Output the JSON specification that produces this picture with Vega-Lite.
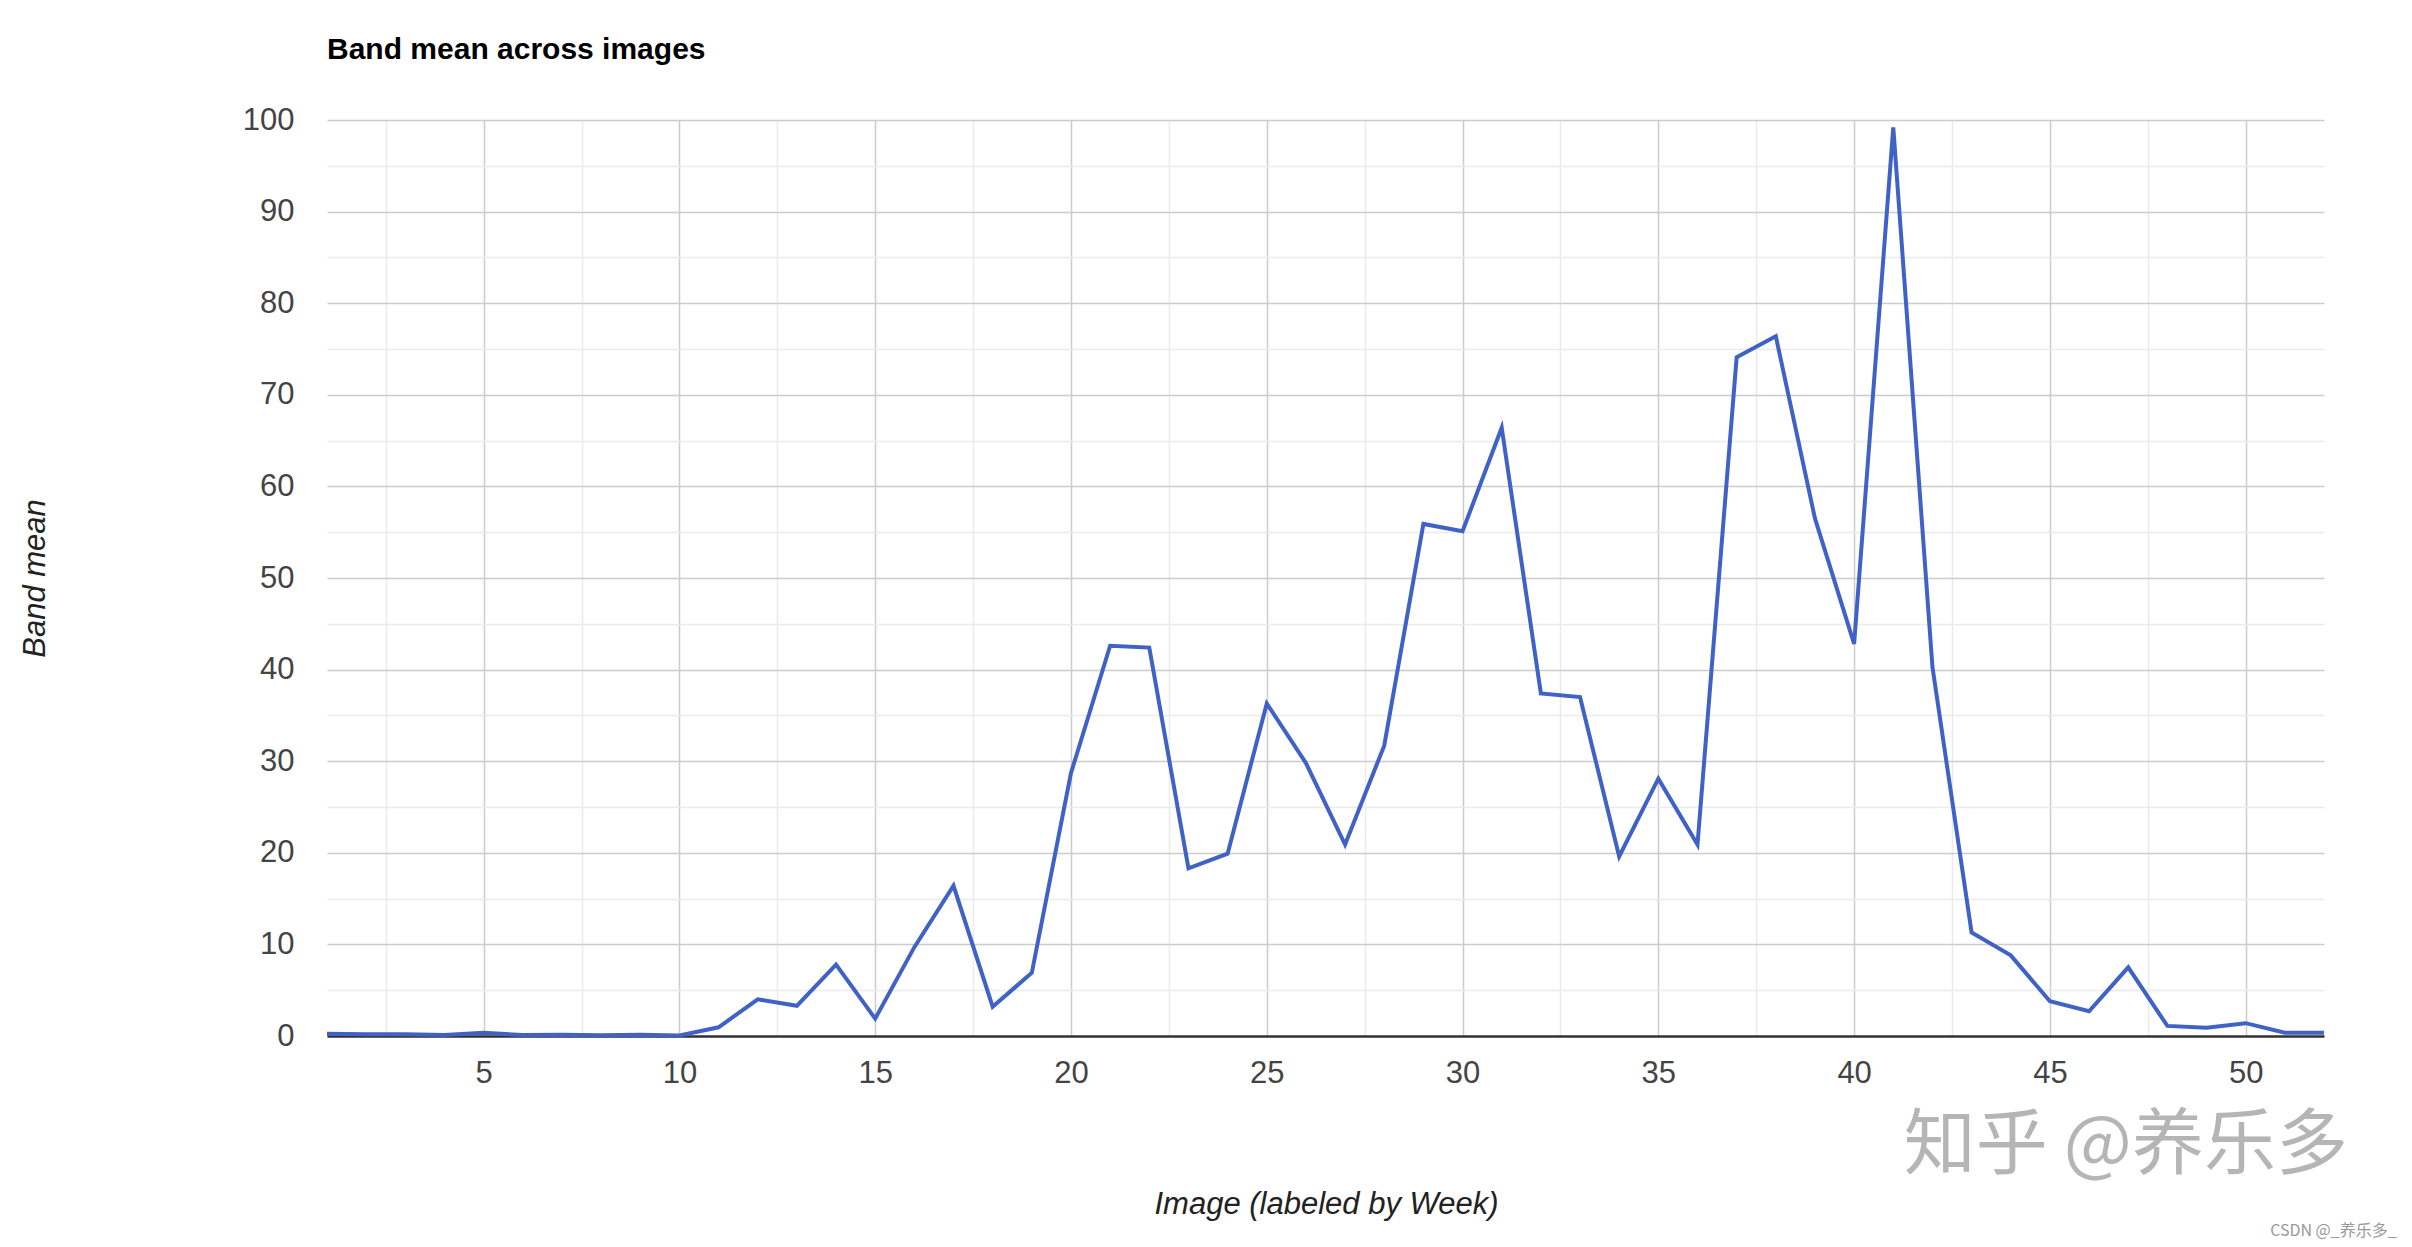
{
  "$schema": "https://vega.github.io/schema/vega-lite/v6.json",
  "width": 1997,
  "height": 916,
  "autosize": {"type": "none"},
  "padding": {"left": 327, "top": 120, "right": 88, "bottom": 211},
  "background": "#ffffff",
  "config": {
    "view": {"stroke": null},
    "font": "Liberation Sans",
    "axis": {"labelFont": "Liberation Sans", "titleFont": "Liberation Sans"}
  },
  "title": {
    "text": "Band mean across images",
    "anchor": "start",
    "frame": "group",
    "font": "Liberation Sans",
    "fontSize": 30,
    "fontWeight": "bold",
    "color": "#000000",
    "baseline": "alphabetic",
    "offset": 15
  },
  "data": {
    "values": [
      {"week": 1, "mean": 0.25},
      {"week": 2, "mean": 0.2},
      {"week": 3, "mean": 0.2},
      {"week": 4, "mean": 0.12},
      {"week": 5, "mean": 0.35},
      {"week": 6, "mean": 0.1},
      {"week": 7, "mean": 0.14},
      {"week": 8, "mean": 0.08},
      {"week": 9, "mean": 0.14},
      {"week": 10, "mean": 0.05},
      {"week": 11, "mean": 0.95},
      {"week": 12, "mean": 4.0},
      {"week": 13, "mean": 3.3},
      {"week": 14, "mean": 7.8},
      {"week": 15, "mean": 1.9},
      {"week": 16, "mean": 9.7},
      {"week": 17, "mean": 16.4},
      {"week": 18, "mean": 3.2},
      {"week": 19, "mean": 6.9},
      {"week": 20, "mean": 28.7},
      {"week": 21, "mean": 42.6},
      {"week": 22, "mean": 42.4},
      {"week": 23, "mean": 18.3},
      {"week": 24, "mean": 19.9},
      {"week": 25, "mean": 36.3},
      {"week": 26, "mean": 29.8},
      {"week": 27, "mean": 20.9},
      {"week": 28, "mean": 31.7},
      {"week": 29, "mean": 55.9},
      {"week": 30, "mean": 55.1},
      {"week": 31, "mean": 66.4},
      {"week": 32, "mean": 37.4},
      {"week": 33, "mean": 37.0},
      {"week": 34, "mean": 19.6},
      {"week": 35, "mean": 28.1},
      {"week": 36, "mean": 20.9},
      {"week": 37, "mean": 74.1},
      {"week": 38, "mean": 76.4},
      {"week": 39, "mean": 56.5},
      {"week": 40, "mean": 42.8},
      {"week": 41, "mean": 99.2},
      {"week": 42, "mean": 40.3},
      {"week": 43, "mean": 11.3},
      {"week": 44, "mean": 8.8},
      {"week": 45, "mean": 3.8},
      {"week": 46, "mean": 2.7},
      {"week": 47, "mean": 7.5},
      {"week": 48, "mean": 1.1},
      {"week": 49, "mean": 0.9},
      {"week": 50, "mean": 1.4},
      {"week": 51, "mean": 0.35},
      {"week": 52, "mean": 0.35}
    ]
  },
  "layer": [
    {
      "mark": {"type": "line", "strokeOpacity": 0},
      "encoding": {
        "x": {
          "field": "week", "type": "quantitative",
          "scale": {"domain": [1, 52], "nice": false, "zero": false},
          "axis": {
            "values": [2.5, 7.5, 12.5, 17.5, 22.5, 27.5, 32.5, 37.5, 42.5, 47.5],
            "grid": true, "gridColor": "#ebebeb", "gridWidth": 1.5,
            "labels": false, "ticks": false, "tickSize": 0, "labelPadding": 0, "domain": false, "title": null, "orient": "bottom"
          }
        },
        "y": {
          "field": "mean", "type": "quantitative",
          "scale": {"domain": [0, 100], "nice": false},
          "axis": {
            "values": [5, 15, 25, 35, 45, 55, 65, 75, 85, 95],
            "grid": true, "gridColor": "#ebebeb", "gridWidth": 1.5,
            "labels": false, "ticks": false, "tickSize": 0, "labelPadding": 0, "domain": false, "title": null, "orient": "right"
          }
        }
      }
    },
    {
      "mark": {"type": "line", "color": "#4062c6", "strokeWidth": 4, "strokeJoin": "miter"},
      "encoding": {
        "x": {
          "field": "week", "type": "quantitative",
          "axis": {
            "values": [5, 10, 15, 20, 25, 30, 35, 40, 45, 50],
            "orient": "bottom",
            "grid": true, "gridColor": "#cccccc", "gridWidth": 1.5,
            "ticks": false, "tickSize": 0,
            "domain": true, "domainColor": "#333333", "domainWidth": 2.5,
            "labelFontSize": 31, "labelColor": "#444444", "labelBaseline": "middle", "labelPadding": 37,
            "title": "Image (labeled by Week)",
            "titleFontSize": 31, "titleFontStyle": "italic", "titleFontWeight": "normal",
            "titleColor": "#222222", "titleBaseline": "middle",
            "titleX": 999, "titleY": 168
          }
        },
        "y": {
          "field": "mean", "type": "quantitative",
          "axis": {
            "values": [0, 10, 20, 30, 40, 50, 60, 70, 80, 90, 100],
            "orient": "left",
            "grid": true, "gridColor": "#cccccc", "gridWidth": 1.5,
            "ticks": false, "tickSize": 0, "domain": false,
            "labelFontSize": 31, "labelColor": "#444444", "labelPadding": 33,
            "title": "Band mean",
            "titleFontSize": 31, "titleFontStyle": "italic", "titleFontWeight": "normal",
            "titleColor": "#222222", "titleBaseline": "middle", "titleAngle": -90,
            "titleX": -292, "titleY": 458
          }
        }
      }
    },
    {
      "data": {"values": [{"note": "知乎 @养乐多"}]},
      "mark": {"type": "text", "font": "Noto Sans CJK SC", "fontSize": 72, "color": "#b5b5b5", "align": "center", "baseline": "middle"},
      "encoding": {
        "text": {"field": "note"},
        "x": {"datum": 46.94, "type": "quantitative", "axis": null},
        "y": {"datum": -12, "type": "quantitative", "axis": null}
      }
    },
    {
      "data": {"values": [{"note": "CSDN @_养乐多_"}]},
      "mark": {"type": "text", "font": "Noto Sans CJK SC", "fontSize": 16, "color": "#999999", "align": "center", "baseline": "middle"},
      "encoding": {
        "text": {"field": "note"},
        "x": {"datum": 52.24, "type": "quantitative", "axis": null},
        "y": {"datum": -21.3, "type": "quantitative", "axis": null}
      }
    }
  ],
  "resolve": {"axis": {"x": "independent", "y": "independent"}}
}
